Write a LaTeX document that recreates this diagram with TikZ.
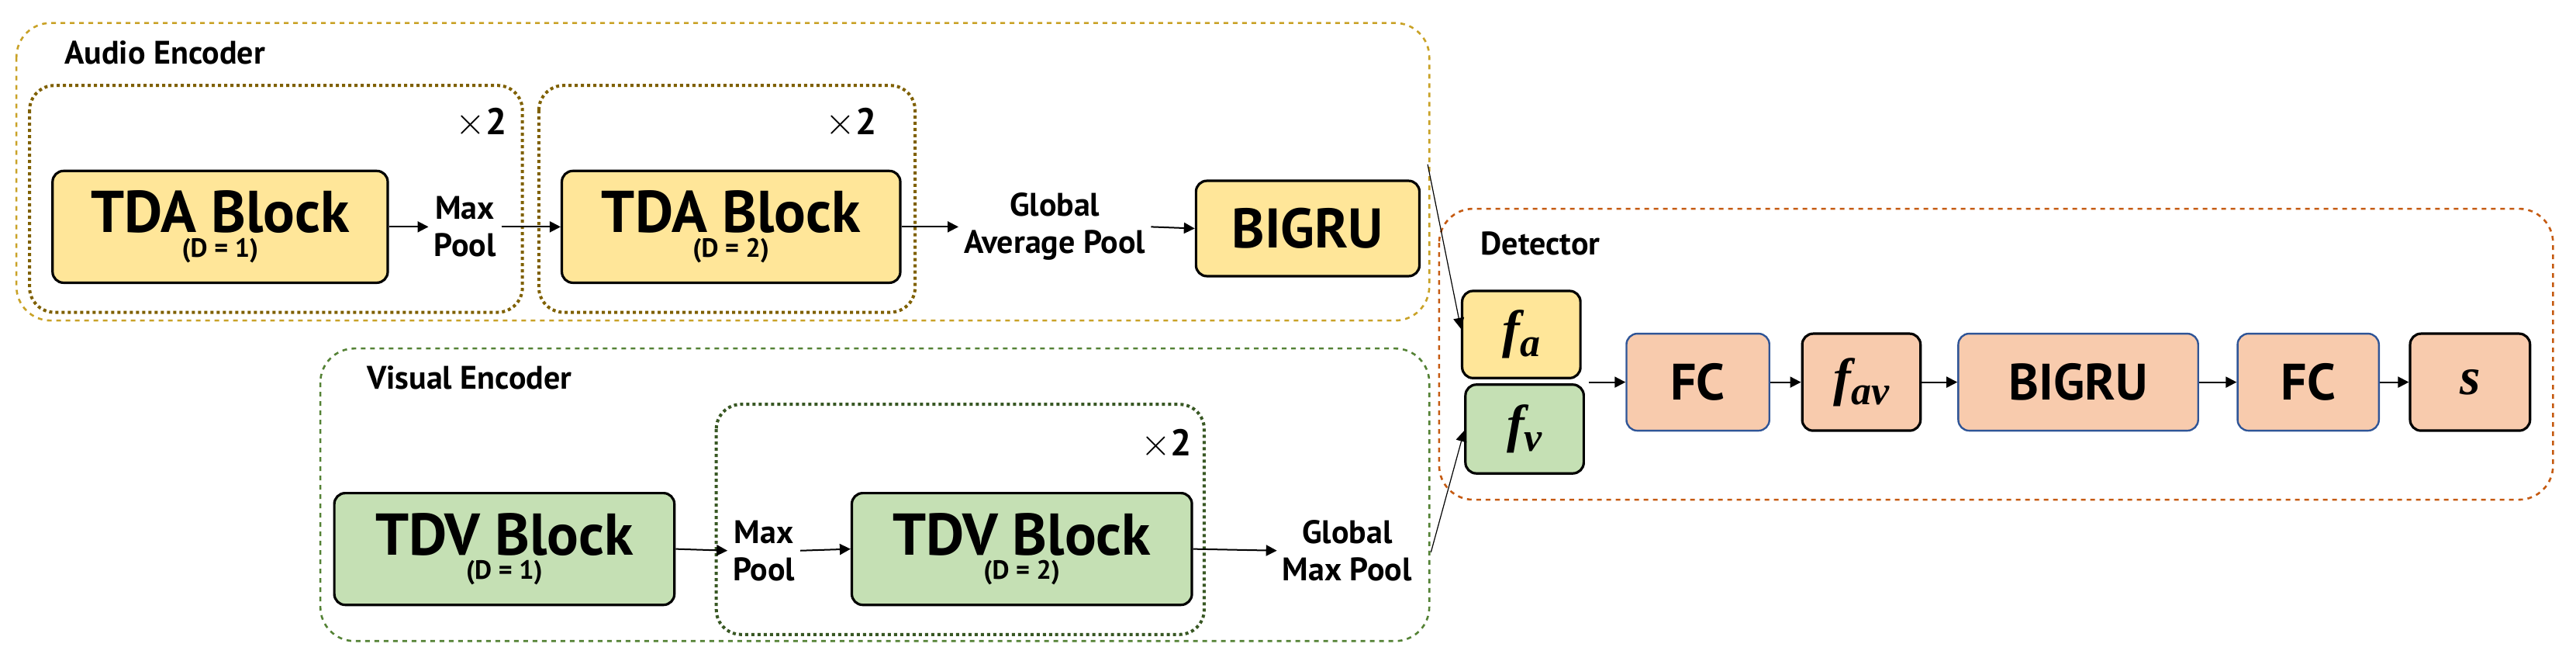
\documentclass[tikz,border=0pt]{standalone}
\usepackage{fontspec}
\setmainfont{PT Sans}
\newfontfamily\myserif{Liberation Serif}
\usetikzlibrary{arrows.meta}
\definecolor{ya}{HTML}{FFE699}
\definecolor{gv}{HTML}{C5E0B4}
\definecolor{pd}{HTML}{F8CBAD}
\definecolor{aud}{HTML}{C9A227}
\definecolor{audin}{HTML}{7F6000}
\definecolor{vis}{HTML}{548235}
\definecolor{visin}{HTML}{385723}
\definecolor{det}{HTML}{C55A11}
\definecolor{bl}{HTML}{2F5597}
\newcommand{\twoline}[2]{\fontsize{38}{40}\selectfont #1\\[2pt]{\fontsize{17}{20}\selectfont #2}}
\begin{document}
\begin{tikzpicture}[x=1.0595pt,y=-1.0595pt,
 blk/.style={draw=black,line width=1.6pt,rounded corners=7pt,inner sep=0pt,font=\bfseries},
 outer/.style={dashed,line width=1.3pt,rounded corners=22pt},
 inner/.style={dotted,line width=2pt,rounded corners=16pt},
 lab/.style={font=\bfseries\fontsize{21}{24}\selectfont,align=center},
 ttl/.style={font=\bfseries\fontsize{21}{24}\selectfont,anchor=west},
 fsym/.style={font=\myserif\bfseries\itshape\fontsize{34}{36}\selectfont},
 arr/.style={-{Triangle[length=7pt,width=7pt]},line width=1pt},
 thin/.style={-{Triangle[length=7pt,width=7pt]},line width=0.6pt}]
\useasboundingbox (0,0) rectangle (1568,402);
% Audio encoder
\draw[outer,draw=aud] (10,14) rectangle (870,195);
\node[ttl] (tA) at (36,32) {Audio Encoder};
\draw[inner,draw=audin] (18,52) rectangle (318,190);
\draw[inner,draw=audin] (328,52) rectangle (557,190);
\node[font=\bfseries\fontsize{24}{26}\selectfont] (x1) at (293,75) {$\times$2};
\node[font=\bfseries\fontsize{24}{26}\selectfont] (x2) at (518,75) {$\times$2};
\node[blk,fill=ya,minimum width=204pt*1.0595,minimum height=68pt*1.0595,align=center] (tda1) at (134,138)
 {\twoline{TDA Block}{(D = 1)}};
\node[lab] (mp1) at (283,138) {Max\\Pool};
\node[blk,fill=ya,minimum width=206pt*1.0595,minimum height=68pt*1.0595,align=center] (tda2) at (445,138)
 {\twoline{TDA Block}{(D = 2)}};
\node[lab] (gap) at (642,138) {Global\\Average Pool};
\node[blk,fill=ya,minimum width=136pt*1.0595,minimum height=58pt*1.0595,font=\bfseries\fontsize{36}{40}\selectfont] (bg1) at (796,139) {BIGRU};
\draw[arr] (tda1.east) -- (mp1.west);
\draw[arr] (mp1.east) -- (tda2.west);
\draw[arr] (tda2.east) -- (gap.west);
\draw[arr] (gap.east) -- (bg1.west);
% Visual encoder
\draw[outer,draw=vis] (195,212) rectangle (870,390);
\node[ttl] (tV) at (220,230) {Visual Encoder};
\draw[inner,draw=visin] (436,246) rectangle (733,386);
\node[font=\bfseries\fontsize{24}{26}\selectfont] (x3) at (710,270) {$\times$2};
\node[blk,fill=gv,minimum width=207pt*1.0595,minimum height=68pt*1.0595,align=center] (tdv1) at (307,334)
 {\twoline{TDV Block}{(D = 1)}};
\node[lab] (mp2) at (465,335) {Max\\Pool};
\node[blk,fill=gv,minimum width=207pt*1.0595,minimum height=68pt*1.0595,align=center] (tdv2) at (622,334)
 {\twoline{TDV Block}{(D = 2)}};
\node[lab] (gmp) at (820,335) {Global\\Max Pool};
\draw[arr] (tdv1.east) -- (mp2.west);
\draw[arr] (mp2.east) -- (tdv2.west);
\draw[arr] (tdv2.east) -- (gmp.west);
% Detector
\draw[outer,draw=det] (876,127) rectangle (1554,304);
\node[ttl] (tD) at (898,148) {Detector};
\node[blk,fill=ya,minimum width=72pt*1.0595,minimum height=53pt*1.0595,fsym] (fa) at (926,203.5) {f\raisebox{-6pt}{\fontsize{26}{28}\selectfont a}};
\node[blk,fill=gv,minimum width=72pt*1.0595,minimum height=54pt*1.0595,fsym] (fv) at (928,261) {f\raisebox{-6pt}{\fontsize{26}{28}\selectfont v}};
\node[blk,draw=bl,line width=1.2pt,fill=pd,minimum width=87pt*1.0595,minimum height=59pt*1.0595,font=\bfseries\fontsize{33}{36}\selectfont] (fc1) at (1033.5,232.5) {FC};
\node[blk,fill=pd,minimum width=72pt*1.0595,minimum height=59pt*1.0595,fsym] (fav) at (1133,232.5) {f\raisebox{-6pt}{\fontsize{26}{28}\selectfont av}};
\node[blk,draw=bl,line width=1.2pt,fill=pd,minimum width=146pt*1.0595,minimum height=59pt*1.0595,font=\bfseries\fontsize{33}{36}\selectfont] (bg2) at (1265,232.5) {BIGRU};
\node[blk,draw=bl,line width=1.2pt,fill=pd,minimum width=86pt*1.0595,minimum height=59pt*1.0595,font=\bfseries\fontsize{33}{36}\selectfont] (fc2) at (1405,232.5) {FC};
\node[blk,fill=pd,minimum width=73pt*1.0595,minimum height=59pt*1.0595,fsym] (s) at (1503.5,232.5) {s};
\coordinate (fs) at (967,232.5);
\coordinate (ae) at (869,100);
\coordinate (ve) at (871,336);
\draw[arr] (fs) -- (fc1.west);
\draw[arr] (fc1.east) -- (fav.west);
\draw[arr] (fav.east) -- (bg2.west);
\draw[arr] (bg2.east) -- (fc2.west);
\draw[arr] (fc2.east) -- (s.west);
\draw[thin] (ae) -- (fa.west |- 0,200);
\draw[thin] (ve) -- (fv.west |- 0,262);
\end{tikzpicture}
\end{document}
